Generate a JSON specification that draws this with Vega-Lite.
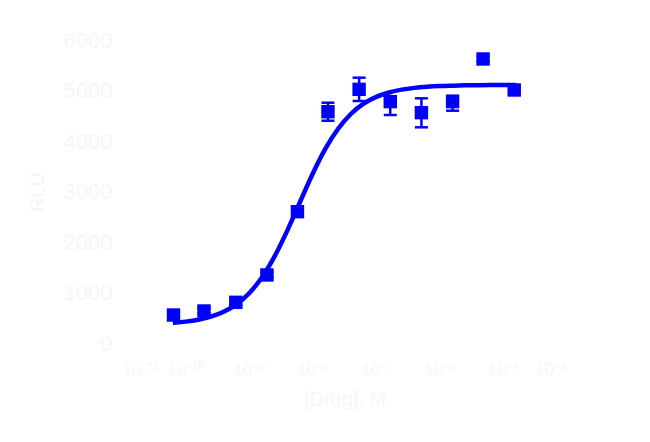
{
  "$schema": "https://vega.github.io/schema/vega-lite/v6.json",
  "width": 445,
  "height": 303,
  "autosize": {"type": "none"},
  "padding": {"left": 122, "top": 40, "right": 83, "bottom": 99},
  "background": "white",
  "config": {"view": {"stroke": null}, "font": "Liberation Sans"},
  "datasets": {
    "points": [
      {"logx": -10.19, "y": 554, "lo": 500, "hi": 610},
      {"logx": -9.71, "y": 634, "lo": 580, "hi": 690},
      {"logx": -9.21, "y": 806, "lo": 750, "hi": 860},
      {"logx": -8.72, "y": 1347, "lo": 1290, "hi": 1400},
      {"logx": -8.24, "y": 2600, "lo": 2540, "hi": 2660},
      {"logx": -7.76, "y": 4580, "lo": 4402, "hi": 4758},
      {"logx": -7.27, "y": 5023, "lo": 4792, "hi": 5254},
      {"logx": -6.78, "y": 4780, "lo": 4515, "hi": 4877},
      {"logx": -6.29, "y": 4561, "lo": 4271, "hi": 4845},
      {"logx": -5.80, "y": 4780, "lo": 4600, "hi": 4897},
      {"logx": -5.32, "y": 5624, "lo": 5570, "hi": 5680},
      {"logx": -4.83, "y": 5010, "lo": 4960, "hi": 5060}
    ],
    "curve": [
      {"logx": -10.2, "y": 399}, {"logx": -10.0, "y": 423}, {"logx": -9.8, "y": 462},
      {"logx": -9.6, "y": 523}, {"logx": -9.4, "y": 619}, {"logx": -9.2, "y": 766},
      {"logx": -9.0, "y": 986}, {"logx": -8.8, "y": 1298}, {"logx": -8.6, "y": 1715},
      {"logx": -8.4, "y": 2226}, {"logx": -8.2, "y": 2792}, {"logx": -8.0, "y": 3353},
      {"logx": -7.8, "y": 3848}, {"logx": -7.6, "y": 4243}, {"logx": -7.4, "y": 4535},
      {"logx": -7.2, "y": 4738}, {"logx": -7.0, "y": 4874}, {"logx": -6.8, "y": 4961},
      {"logx": -6.6, "y": 5017}, {"logx": -6.4, "y": 5052}, {"logx": -6.2, "y": 5074},
      {"logx": -6.0, "y": 5088}, {"logx": -5.8, "y": 5096}, {"logx": -5.6, "y": 5102},
      {"logx": -5.4, "y": 5105}, {"logx": -5.2, "y": 5107}, {"logx": -5.0, "y": 5108},
      {"logx": -4.8, "y": 5109}
    ]
  },
  "encoding": {
    "x": {
      "field": "logx", "type": "quantitative",
      "scale": {"domain": [-11, -4], "nice": false, "zero": false},
      "axis": {
        "values": [-11, -10, -9, -8, -7, -6, -5, -4],
        "labelExpr": "['10⁻¹¹','10⁻¹⁰','10⁻⁹','10⁻⁸','10⁻⁷','10⁻⁶','10⁻⁵','10⁻⁴'][datum.value + 11]",
        "labelOverlap": false, "labelBound": false,
        "title": "[Drug], M",
        "domain": false, "ticks": false, "grid": false,
        "labelFontSize": 17, "labelColor": "#f6f6f6", "labelPadding": 18,
        "labelFont": "Liberation Sans",
        "titleFontSize": 20, "titleColor": "#f6f6f6", "titlePadding": 12,
        "titleFont": "Liberation Sans", "titleFontWeight": "normal"
      }
    },
    "y": {
      "field": "y", "type": "quantitative",
      "scale": {"domain": [0, 6000], "nice": false},
      "axis": {
        "values": [0, 1000, 2000, 3000, 4000, 5000, 6000],
        "format": "d",
        "labelOverlap": false,
        "title": "RLU",
        "domain": false, "ticks": false, "grid": false,
        "labelFontSize": 22, "labelColor": "#f6f6f6", "labelPadding": 10,
        "labelFont": "Liberation Sans",
        "titleFontSize": 20, "titleColor": "#f6f6f6", "titlePadding": 16,
        "titleFont": "Liberation Sans", "titleFontWeight": "normal"
      }
    }
  },
  "layer": [
    {
      "data": {"name": "curve"},
      "mark": {"type": "line", "color": "#0000ff", "strokeWidth": 4.5, "interpolate": "monotone"}
    },
    {
      "data": {"name": "points"},
      "mark": {"type": "rule", "color": "#0000ff", "strokeWidth": 2.5},
      "encoding": {"y": {"field": "lo", "type": "quantitative"}, "y2": {"field": "hi"}}
    },
    {
      "data": {"name": "points"},
      "mark": {"type": "tick", "color": "#0000ff", "orient": "horizontal", "size": 13, "thickness": 2.5, "opacity": 1},
      "encoding": {"y": {"field": "lo", "type": "quantitative"}}
    },
    {
      "data": {"name": "points"},
      "mark": {"type": "tick", "color": "#0000ff", "orient": "horizontal", "size": 13, "thickness": 2.5, "opacity": 1},
      "encoding": {"y": {"field": "hi", "type": "quantitative"}}
    },
    {
      "data": {"name": "points"},
      "mark": {"type": "point", "shape": "square", "filled": true, "color": "#0000ff", "size": 180, "opacity": 1}
    }
  ]
}
